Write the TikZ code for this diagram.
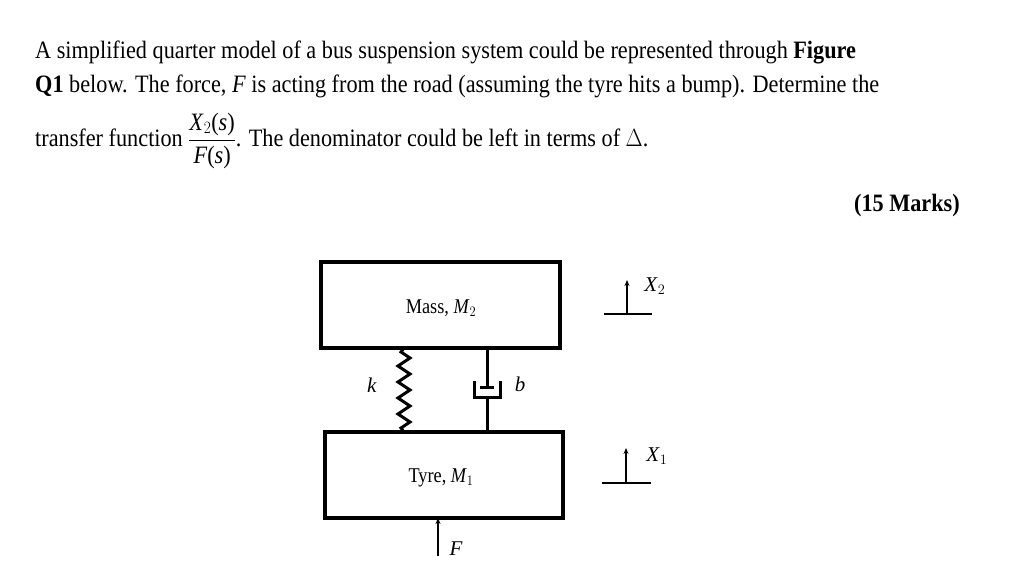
\documentclass[tikz,border=0pt]{standalone}
\usetikzlibrary{arrows.meta}
\usepackage{fontspec}
\setmainfont{Liberation Serif}
\usepackage{amsmath}
\newcommand{\iv}[1]{\textit{#1}}
\begin{document}
\begin{tikzpicture}[x=1pt,y=-1pt,
  box/.style={draw,line width=3.4pt},
  lbl/.style={font=\fontsize{21}{24}\selectfont,inner sep=0pt},
  txt/.style={anchor=west,inner sep=0pt,font=\fontsize{25}{30}\selectfont},
  thick2/.style={line width=3pt},
  thin2/.style={line width=2pt}]
\useasboundingbox (0,0) rectangle (1024,588);
\node[txt] (l1) at (35,52) {\scalebox{0.89}[1]{A simplified quarter model of a bus suspension system could be represented through \textbf{Figure}}};
\node[txt] (l2) at (35,86) {\scalebox{0.89}[1]{\textbf{Q1} below. The force, \iv{F} is acting from the road (assuming the tyre hits a bump). Determine the}};
\node[txt] (l3) at (35,141) {\scalebox{0.89}[1]{transfer function $\dfrac{\text{\iv{X}}_2\text{(\iv{s})}}{\text{\iv{F}(\iv{s})}}$. The denominator could be left in terms of $\Delta$.}};
\node[txt,anchor=east] (marks) at (960,205) {\scalebox{0.89}[1]{\textbf{(15 Marks)}}};
% masses
\draw[box] (321,262) rectangle (560,348);
\node[lbl] (m2) at (441,308) {\scalebox{0.87}[1]{Mass, \iv{M}$_2$}};
\draw[box] (325,432) rectangle (563,518);
\node[lbl] (m1) at (441,478) {\scalebox{0.87}[1]{Tyre, \iv{M}$_1$}};
% spring
\coordinate (st) at (404,348);
\coordinate (sb) at (404,432);
\draw[thick2,line join=miter] (st) -- (401,352) -- (410,358) -- (398,366) -- (410,374) -- (398,382) -- (410,390) -- (398,398) -- (410,406) -- (398,414) -- (410,422) -- (401,428) -- (sb);
\node[lbl] (k) at (372,385) {\iv{k}};
% damper
\coordinate (dt) at (487,348);
\coordinate (db) at (487,432);
\draw[thick2] (dt) -- (487,387);
\draw[thick2] (480,387) -- (494,387);
\draw[thick2] (474,381) -- (474,397) -- (500,397) -- (500,381);
\draw[thick2] (487,397) -- (db);
\node[lbl] (b) at (520,384) {\iv{b}};
% displacement markers
\coordinate (x2a) at (627,314);
\coordinate (x2b) at (627,280);
\draw[thin2] (604,314) -- (652,314);
\draw[thin2,-{Stealth[length=6pt,width=5pt]}] (x2a) -- (x2b);
\node[lbl] (x2) at (655,286) {\iv{X}$_2$};
\coordinate (x1a) at (626,483);
\coordinate (x1b) at (626,448);
\draw[thin2] (602,483) -- (651,483);
\draw[thin2,-{Stealth[length=6pt,width=5pt]}] (x1a) -- (x1b);
\node[lbl] (x1) at (657,456) {\iv{X}$_1$};
% force
\coordinate (fa) at (438,556);
\coordinate (fb) at (438,518);
\draw[thin2,-{Stealth[length=6pt,width=5pt]}] (fa) -- (fb);
\node[lbl] (F) at (456,549) {\iv{F}};
\end{tikzpicture}
\end{document}
